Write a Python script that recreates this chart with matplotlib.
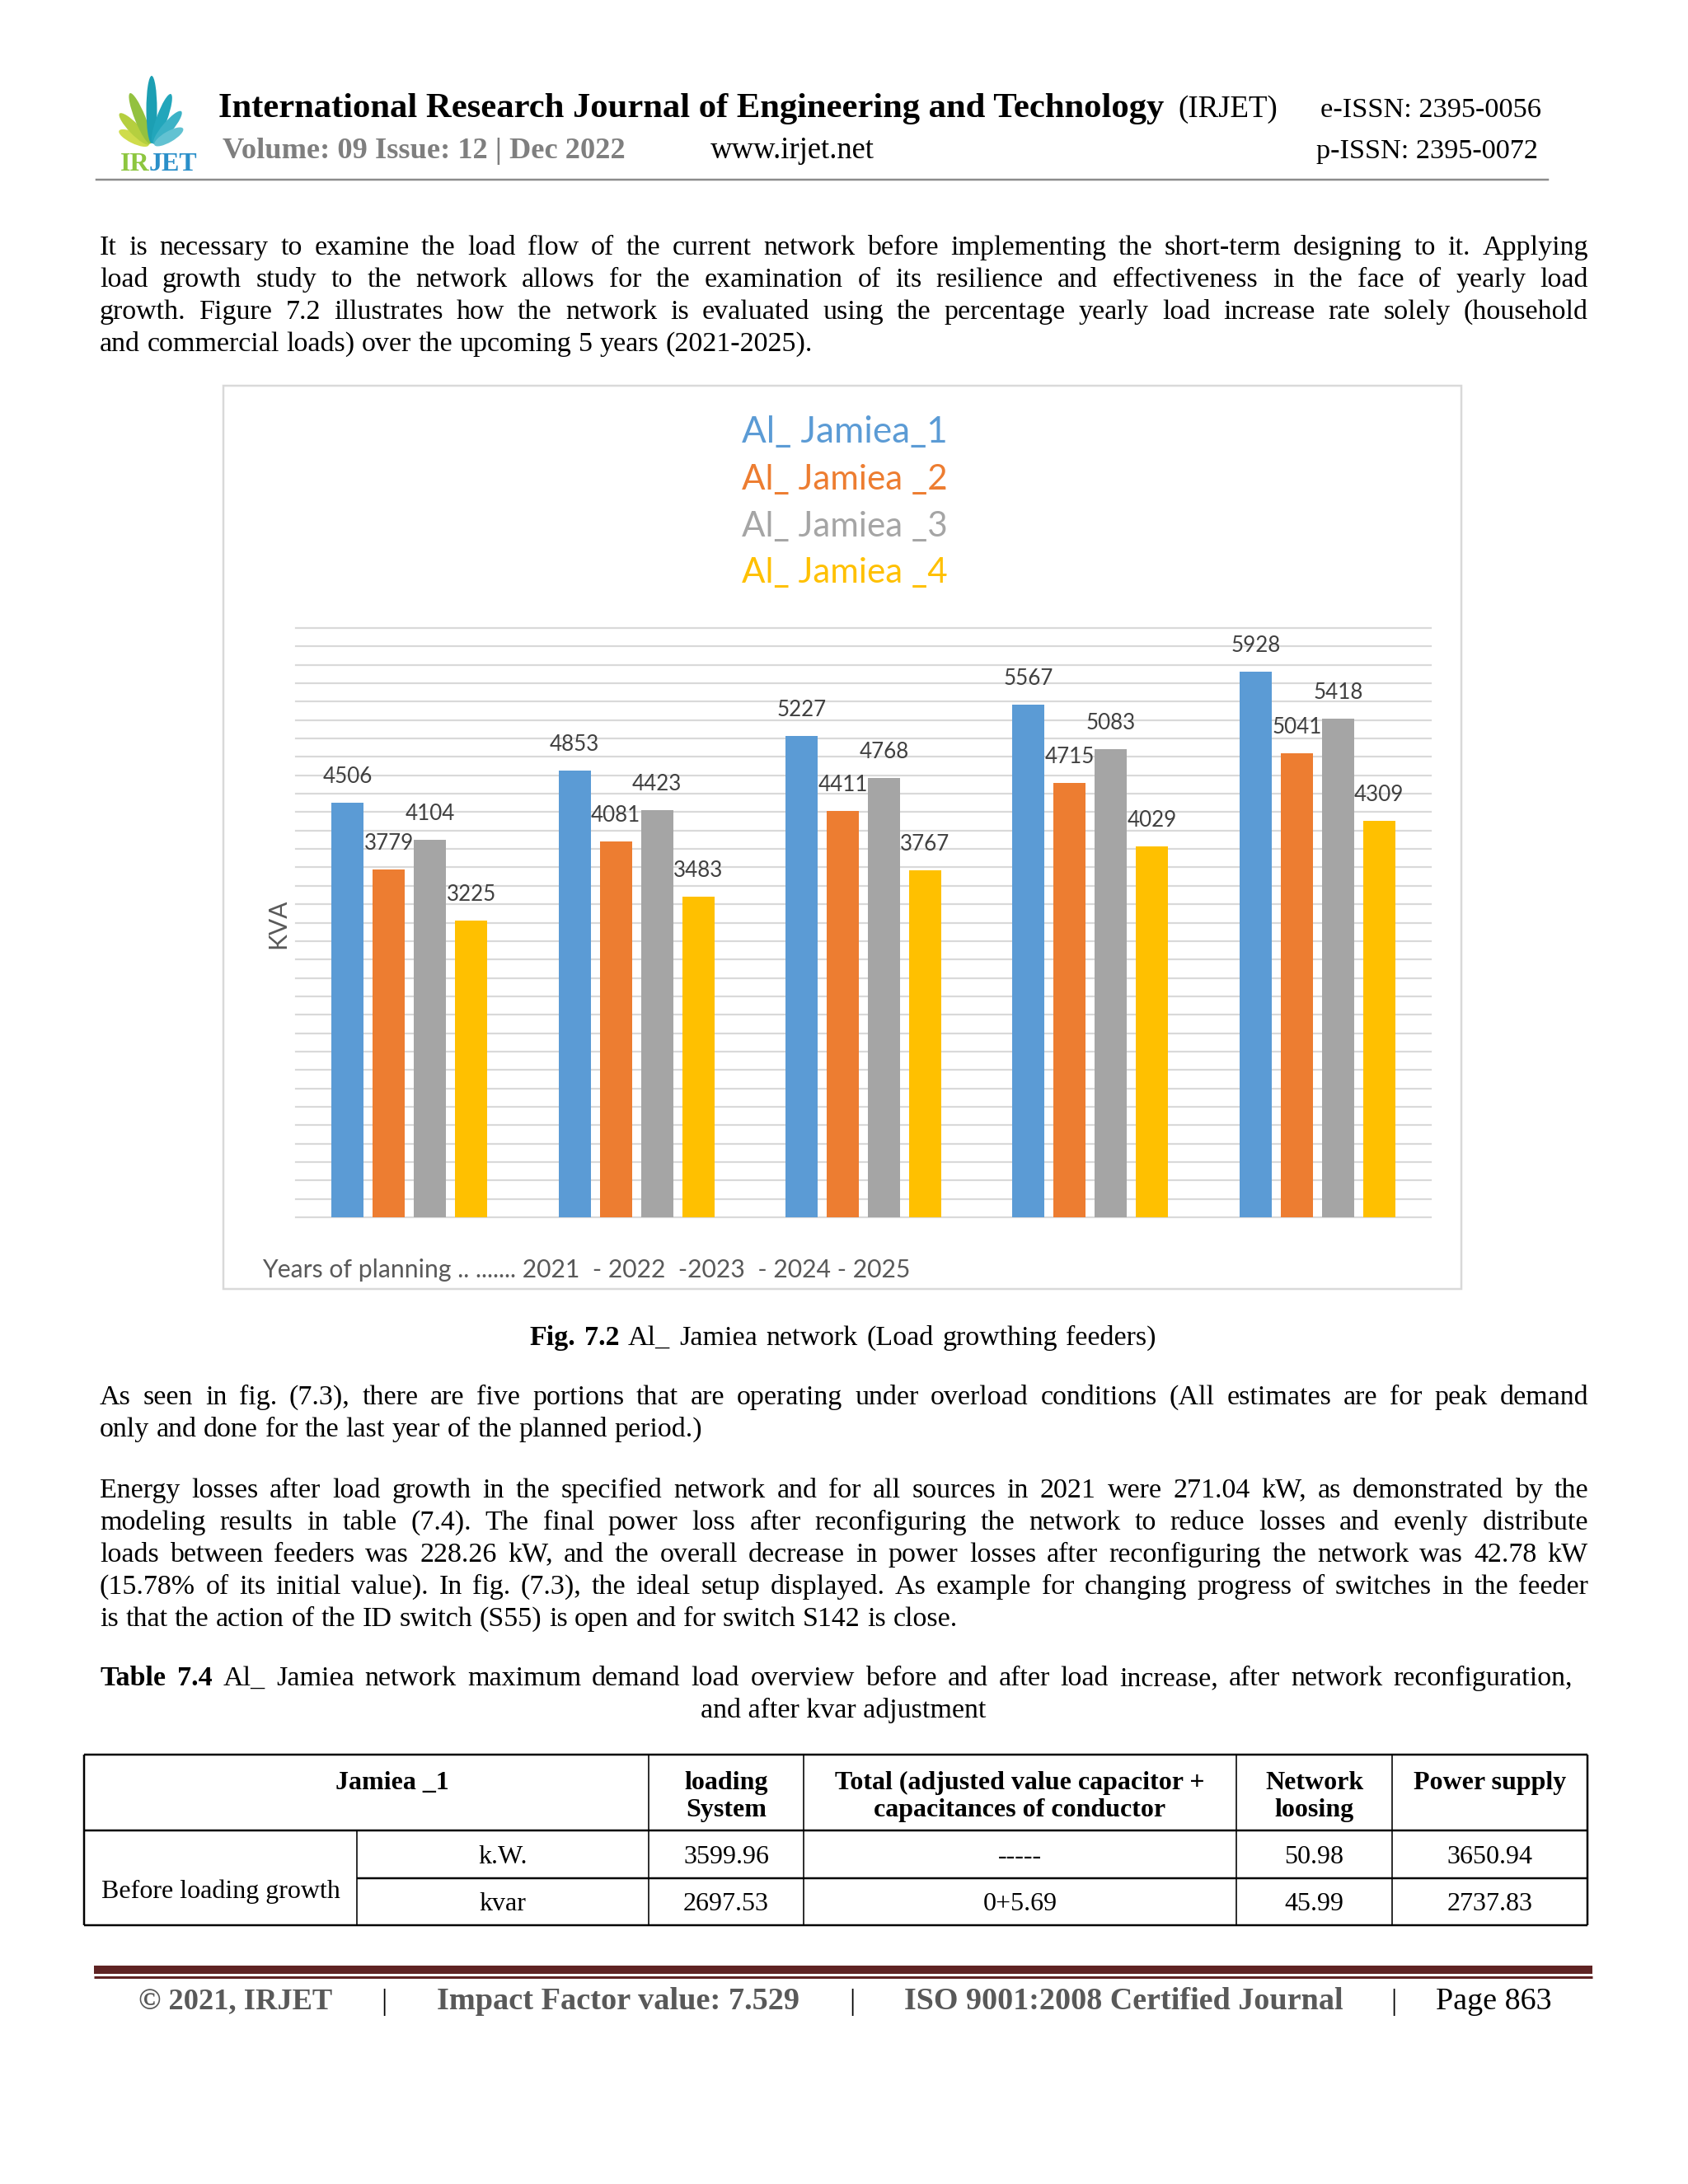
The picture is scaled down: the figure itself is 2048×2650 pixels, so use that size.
import matplotlib
matplotlib.use("Agg")
import matplotlib.pyplot as plt
from matplotlib.patches import Rectangle, Ellipse
import numpy as np

W, H = 2048, 2650
SERIF = "Liberation Serif"
SANS = "Lato"

# chart data
years = ["2021", "2022", "2023", "2024", "2025"]
series_names = ["Al_ Jamiea_1", "Al_ Jamiea _2", "Al_ Jamiea _3", "Al_ Jamiea _4"]
jamiea_1 = [4506, 4853, 5227, 5567, 5928]
jamiea_2 = [3779, 4081, 4411, 4715, 5041]
jamiea_3 = [4104, 4423, 4768, 5083, 5418]
jamiea_4 = [3225, 3483, 3767, 4029, 4309]
colors = ["#5b9bd5", "#ed7d31", "#a5a5a5", "#ffc000"]

# table data
table_header = ["Jamiea _1", "loading\nSystem",
                "Total (adjusted value capacitor +\ncapacitances of conductor",
                "Network\nloosing", "Power supply"]
row_group = "Before loading growth"
row_units = ["k.W.", "kvar"]
loading_system = ["3599.96", "2697.53"]
total_adjusted = ["-----", "0+5.69"]
network_loosing = ["50.98", "45.99"]
power_supply = ["3650.94", "2737.83"]

para1 = [
    "It is necessary to examine the load flow of the current network before implementing the short-term designing to it. Applying",
    "load growth study to the network allows for the examination of its resilience and effectiveness in the face of yearly load",
    "growth. Figure 7.2 illustrates how the network is evaluated using the percentage yearly load increase rate solely (household",
    "and commercial loads) over the upcoming 5 years (2021-2025).",
]
para2 = [
    "As seen in fig. (7.3), there are five portions that are operating under overload conditions (All estimates are for peak demand",
    "only and done for the last year of the planned period.)",
]
para3 = [
    "Energy losses after load growth in the specified network and for all sources in 2021 were 271.04 kW, as demonstrated by the",
    "modeling results in table (7.4). The final power loss after reconfiguring the network to reduce losses and evenly distribute",
    "loads between feeders was 228.26 kW, and the overall decrease in power losses after reconfiguring the network was 42.78 kW",
    "(15.78% of its initial value). In fig. (7.3), the ideal setup displayed. As example for changing progress of switches in the feeder",
    "is that the action of the ID switch (S55) is open and for switch S142 is close.",
]


def pt(px):
    return px * 0.72


fig = plt.figure(figsize=(W / 100, H / 100), dpi=100)
fig.patch.set_facecolor("white")
page = fig.add_axes([0, 0, 1, 1])
page.set_xlim(0, W)
page.set_ylim(H, 0)
page.axis("off")
renderer = fig.canvas.get_renderer()


def width_of(t):
    return t.get_window_extent(renderer).width


def put(x, y, s, size, ha="left", weight="normal", color="black", family=SERIF, fit=None, **kw):
    t = page.text(x, y, s, fontsize=pt(size), ha=ha, va="baseline",
                  fontweight=weight, color=color, family=family, **kw)
    if fit:
        t.set_fontsize(t.get_fontsize() * fit / width_of(t))
    return t


def line(segments, y, x0, x1, size, justify=True):
    words = []
    for text, weight in segments:
        for w in text.split():
            words.append(put(0, y, w, size, weight=weight))
    widths = [width_of(t) for t in words]
    if justify and len(words) > 1:
        gap = (x1 - x0 - sum(widths)) / (len(words) - 1)
    else:
        gap = 0.25 * size
    x = x0
    for t, w in zip(words, widths):
        t.set_x(x)
        x += w + gap


# ---- header ----
base = (184, 178)
leaves = [(-64, 40, "#cfdc4c"), (-44, 52, "#b5cf3f"), (-22, 66, "#93c13f"),
          (0, 82, "#1c9fb3"), (20, 64, "#22a6bb"), (40, 52, "#3cb2c6"), (60, 40, "#62c2d2")]
for a, L, c in leaves:
    r = np.radians(a)
    cx = base[0] + (L / 2 + 4) * np.sin(r)
    cy = base[1] - (L / 2 + 4) * np.cos(r)
    page.add_patch(Ellipse((cx, cy), 13, L, angle=a, color=c, lw=0))
put(146, 207, "IR", 32, color="#8dc63f", weight="bold")
put(181, 207, "JET", 32, color="#2a8fc9", weight="bold")

put(265, 142, "International Research Journal of Engineering and Technology", 40, weight="bold", fit=1147)
put(1429, 142, "(IRJET)", 40, fit=121)
put(1602, 142, "e-ISSN: 2395-0056", 34, fit=268)
put(270, 192, "Volume: 09 Issue: 12 | Dec 2022", 33, weight="bold", color="#7f7f7f", fit=488)
put(862, 192, "www.irjet.net", 33, fit=199)
put(1597, 192, "p-ISSN: 2395-0072", 34, fit=269)
page.plot([117, 1878], [218, 218], color="#8c8c8c", lw=pt(2.5))

# ---- paragraph 1 ----
X0, X1 = 121, 1927
for i, s in enumerate(para1):
    line([(s, "normal")], 309 + 39 * i, X0, X1, 34, justify=i < len(para1) - 1)

# ---- chart ----
page.add_patch(Rectangle((271, 468), 1502, 1096, fill=False, ec="#d9d9d9", lw=pt(2.5)))
title_base = [537, 594, 651, 707]
for name, c, yb in zip(series_names, colors, title_base):
    put(1025, yb, name, 44, ha="center", color=c, family=SANS, fit=250)

ax = fig.add_axes([359 / W, 1 - 1477 / H, (1736 - 359) / W, (1477 - 762) / H])
ax.set_facecolor("none")
x = np.arange(len(years))
series = [jamiea_1, jamiea_2, jamiea_3, jamiea_4]
step, bw = 0.1816, 0.1416
for i, (vals, c) in enumerate(zip(series, colors)):
    bars = ax.bar(x + (i - 1.5) * step, vals, bw, color=c, zorder=3)
    for b, v in zip(bars, vals):
        ax.annotate(str(v), (b.get_x() + b.get_width() / 2, v), xytext=(0, 24),
                    textcoords="offset pixels", ha="center", va="baseline",
                    fontsize=pt(26), color="#404040", family=SANS, zorder=4)
ax.set_xlim(-0.5, len(years) - 0.5)
ax.set_ylim(0, 6400)
ax.set_yticks(np.arange(0, 6401, 200))
ax.set_xticks([])
ax.grid(axis="y", color="#d9d9d9", lw=pt(2.2), zorder=0)
ax.tick_params(length=0, labelleft=False)
for sp in ax.spines.values():
    sp.set_visible(False)
for gl in ax.get_ygridlines():
    gl.set_clip_on(False)

page.text(337, 1121, "KVA", rotation=90, ha="center", va="center",
          fontsize=pt(30), color="#595959", family=SANS)
years_text = f"Years of planning .. ....... {years[0]}  - {years[1]}  -{years[2]}  - {years[3]} - {years[4]}"
put(318, 1550, years_text, 30, color="#595959", family=SANS, fit=787)

# ---- caption and paragraphs ----
line([("Fig. 7.2", "bold"), ("Al_ Jamiea network (Load growthing feeders)", "normal")],
     1632, 642, 1403, 34)
for i, s in enumerate(para2):
    line([(s, "normal")], 1704 + 39 * i, X0, X1, 34, justify=i < len(para2) - 1)
for i, s in enumerate(para3):
    line([(s, "normal")], 1817 + 39 * i, X0, X1, 34, justify=i < len(para3) - 1)

line([("Table 7.4", "bold"),
      ("Al_ Jamiea network maximum demand load overview before and after load increase, after network reconfiguration,", "normal")],
     2045, 122, 1908, 34)
put(1023, 2084, "and after kvar adjustment", 34, ha="center")

# ---- table ----
cols = [102, 433, 787, 975, 1500, 1689, 1926]
rows = [2129, 2221, 2279, 2336]
for yy in rows:
    x_start = cols[1] if yy == rows[2] else cols[0]
    page.plot([x_start, cols[-1]], [yy, yy], color="black", lw=pt(2.5), solid_capstyle="butt")
for j, xx in enumerate(cols):
    top = rows[1] if j == 1 else rows[0]
    lw = 2.5 if j in (0, len(cols) - 1) else 1.6
    page.plot([xx, xx], [top, rows[-1]], color="black", lw=pt(lw), solid_capstyle="butt")

head_x = [476, (cols[2] + cols[3]) / 2, (cols[3] + cols[4]) / 2,
          (cols[4] + cols[5]) / 2, (cols[5] + cols[6]) / 2]
for hx, h in zip(head_x, table_header):
    for k, part in enumerate(h.split("\n")):
        put(hx, 2171 + 33 * k, part, 32, ha="center", weight="bold")

put((cols[0] + cols[1]) / 2, 2303, row_group, 32, ha="center")
row_base = [2261, 2318]
for r in range(2):
    put((cols[1] + cols[2]) / 2, row_base[r], row_units[r], 32, ha="center")
    for j, col_vals in enumerate([loading_system, total_adjusted, network_loosing, power_supply]):
        put((cols[j + 2] + cols[j + 3]) / 2, row_base[r], col_vals[r], 32, ha="center")

# ---- footer ----
page.plot([114, 1932], [2390, 2390], color="#5f2323", lw=pt(10), solid_capstyle="butt")
page.plot([114, 1932], [2399, 2399], color="#5f2323", lw=pt(3), solid_capstyle="butt")
foot_gray = "#595959"
put(168, 2438, "© 2021, IRJET", 36, weight="bold", color=foot_gray, fit=235)
put(466, 2438, "|", 36, ha="center", color="black")
put(530, 2438, "Impact Factor value: 7.529", 36, weight="bold", color=foot_gray, fit=442)
put(1034, 2438, "|", 36, ha="center", color="black")
put(1097, 2438, "ISO 9001:2008 Certified Journal", 36, weight="bold", color=foot_gray, fit=534)
put(1691, 2438, "|", 36, ha="center", color="black")
put(1742, 2438, "Page 863", 36, color="black", fit=140)

fig.savefig("out.png", dpi=100, facecolor="white")
